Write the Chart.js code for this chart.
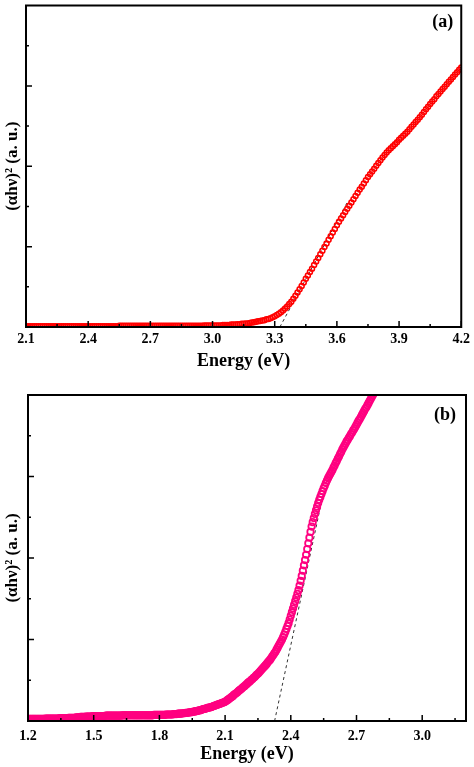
<!DOCTYPE html>
<html>
<head>
<meta charset="utf-8">
<script src="https://cdn.jsdelivr.net/npm/chart.js@4.4.0/dist/chart.umd.min.js"></script>
<style>
  html, body { margin: 0; padding: 0; background: #fff; }
  body { width: 474px; height: 767px; position: relative; overflow: hidden; }
  .panel { position: absolute; left: 0; width: 474px; }
  #panelA { top: 0; height: 372px; }
  #panelB { top: 380px; height: 387px; }
</style>
</head>
<body>
<div class="panel" id="panelA"><canvas id="chartA"></canvas></div>
<div class="panel" id="panelB"><canvas id="chartB"></canvas></div>
<script>
// ---- Panel (a): energy grid 2.10 .. 4.20 eV, 0.01 eV apart ----
const startA = 2.10;
const stepA = 0.01;
const absA = [
  0.02, 0.02, 0.02, 0.02, 0.02, 0.02, 0.02, 0.02, 0.02, 0.02, // 2.10
  0.02, 0.02, 0.02, 0.02, 0.02, 0.02, 0.02, 0.02, 0.02, 0.02, // 2.20
  0.02, 0.02, 0.02, 0.02, 0.02, 0.02, 0.02, 0.02, 0.02, 0.02, // 2.30
  0.02, 0.02, 0.02, 0.02, 0.02, 0.02, 0.02, 0.02, 0.02, 0.02, // 2.40
  0.02, 0.02, 0.02, 0.02, 0.02, 0.03, 0.03, 0.03, 0.03, 0.03, // 2.50
  0.03, 0.03, 0.03, 0.03, 0.03, 0.03, 0.03, 0.03, 0.03, 0.03, // 2.60
  0.03, 0.03, 0.03, 0.03, 0.03, 0.03, 0.03, 0.03, 0.03, 0.03, // 2.70
  0.03, 0.03, 0.03, 0.03, 0.03, 0.03, 0.03, 0.03, 0.03, 0.03, // 2.80
  0.03, 0.03, 0.03, 0.03, 0.03, 0.03, 0.04, 0.04, 0.04, 0.04, // 2.90
  0.04, 0.04, 0.04, 0.04, 0.04, 0.05, 0.05, 0.05, 0.05, 0.06, // 3.00
  0.06, 0.06, 0.07, 0.07, 0.08, 0.08, 0.09, 0.09, 0.10, 0.11, // 3.10
  0.12, 0.13, 0.14, 0.15, 0.16, 0.17, 0.19, 0.20, 0.22, 0.24, // 3.20
  0.27, 0.30, 0.33, 0.37, 0.41, 0.46, 0.51, 0.57, 0.63, 0.70, // 3.30
  0.78, 0.86, 0.94, 1.02, 1.11, 1.20, 1.28, 1.37, 1.45, 1.54, // 3.40
  1.63, 1.72, 1.81, 1.90, 1.99, 2.08, 2.17, 2.26, 2.35, 2.44, // 3.50
  2.53, 2.62, 2.70, 2.78, 2.86, 2.94, 3.02, 3.10, 3.18, 3.26, // 3.60
  3.34, 3.42, 3.49, 3.57, 3.65, 3.73, 3.80, 3.87, 3.94, 4.01, // 3.70
  4.08, 4.15, 4.22, 4.28, 4.34, 4.40, 4.45, 4.50, 4.55, 4.60, // 3.80
  4.66, 4.71, 4.76, 4.81, 4.86, 4.92, 4.98, 5.04, 5.10, 5.16, // 3.90
  5.22, 5.28, 5.35, 5.42, 5.48, 5.55, 5.61, 5.67, 5.74, 5.80, // 4.00
  5.86, 5.92, 5.98, 6.04, 6.10, 6.16, 6.22, 6.28, 6.34, 6.40, // 4.10
  6.46                                                        // 4.20
];
const xMajorA = [2.1, 2.4, 2.7, 3.0, 3.3, 3.6, 3.9, 4.2];
const xMinorA = [2.25, 2.55, 2.85, 3.15, 3.45, 3.75, 4.05];
const tangentA = [[3.325, 0], [3.65, 3.1]];

// ---- Panel (b): energy grid 1.200 .. 2.795 eV, 0.005 eV apart ----
const startB = 1.200;
const stepB = 0.005;
const absB = [
  0.05, 0.05, 0.05, 0.05, 0.05, 0.05, 0.05, 0.05, 0.05, 0.05, // 1.20
  0.05, 0.05, 0.05, 0.05, 0.05, 0.05, 0.06, 0.06, 0.06, 0.06, // 1.25
  0.06, 0.06, 0.06, 0.06, 0.06, 0.06, 0.06, 0.06, 0.06, 0.07, // 1.30
  0.07, 0.07, 0.07, 0.07, 0.07, 0.07, 0.07, 0.08, 0.08, 0.08, // 1.35
  0.08, 0.08, 0.08, 0.08, 0.09, 0.09, 0.09, 0.09, 0.10, 0.10, // 1.40
  0.10, 0.10, 0.10, 0.11, 0.11, 0.11, 0.11, 0.11, 0.11, 0.12, // 1.45
  0.12, 0.12, 0.12, 0.12, 0.12, 0.12, 0.12, 0.12, 0.12, 0.12, // 1.50
  0.12, 0.13, 0.13, 0.13, 0.13, 0.13, 0.13, 0.13, 0.13, 0.13, // 1.55
  0.13, 0.13, 0.13, 0.13, 0.13, 0.13, 0.14, 0.14, 0.14, 0.14, // 1.60
  0.14, 0.14, 0.14, 0.14, 0.14, 0.14, 0.14, 0.14, 0.14, 0.14, // 1.65
  0.14, 0.14, 0.14, 0.14, 0.14, 0.14, 0.14, 0.14, 0.14, 0.14, // 1.70
  0.14, 0.14, 0.14, 0.14, 0.14, 0.15, 0.15, 0.15, 0.15, 0.15, // 1.75
  0.15, 0.15, 0.15, 0.15, 0.15, 0.15, 0.16, 0.16, 0.16, 0.16, // 1.80
  0.16, 0.16, 0.16, 0.17, 0.17, 0.17, 0.17, 0.18, 0.18, 0.18, // 1.85
  0.18, 0.19, 0.19, 0.19, 0.20, 0.20, 0.20, 0.21, 0.21, 0.22, // 1.90
  0.22, 0.23, 0.23, 0.24, 0.24, 0.25, 0.26, 0.26, 0.27, 0.28, // 1.95
  0.29, 0.30, 0.30, 0.31, 0.32, 0.33, 0.33, 0.34, 0.35, 0.36, // 2.00
  0.37, 0.38, 0.39, 0.40, 0.41, 0.42, 0.43, 0.44, 0.45, 0.46, // 2.05
  0.47, 0.49, 0.51, 0.53, 0.55, 0.57, 0.59, 0.61, 0.64, 0.66, // 2.10
  0.68, 0.70, 0.73, 0.75, 0.77, 0.79, 0.82, 0.84, 0.86, 0.89, // 2.15
  0.91, 0.94, 0.96, 0.98, 1.01, 1.03, 1.06, 1.08, 1.11, 1.14, // 2.20
  1.16, 1.19, 1.22, 1.25, 1.28, 1.31, 1.34, 1.37, 1.40, 1.44, // 2.25
  1.47, 1.50, 1.54, 1.58, 1.62, 1.66, 1.70, 1.75, 1.80, 1.85, // 2.30
  1.90, 1.95, 2.00, 2.06, 2.12, 2.19, 2.26, 2.33, 2.40, 2.49, // 2.35
  2.58, 2.67, 2.76, 2.85, 2.94, 3.03, 3.12, 3.21, 3.32, 3.44, // 2.40
  3.56, 3.69, 3.82, 3.95, 4.08, 4.22, 4.36, 4.50, 4.64, 4.77, // 2.45
  4.88, 4.98, 5.08, 5.17, 5.26, 5.35, 5.43, 5.50, 5.57, 5.64, // 2.50
  5.71, 5.77, 5.84, 5.90, 5.96, 6.01, 6.06, 6.11, 6.16, 6.22, // 2.55
  6.27, 6.33, 6.38, 6.44, 6.49, 6.55, 6.60, 6.66, 6.71, 6.76, // 2.60
  6.81, 6.86, 6.90, 6.95, 6.99, 7.04, 7.08, 7.13, 7.17, 7.22, // 2.65
  7.27, 7.32, 7.37, 7.41, 7.46, 7.51, 7.56, 7.61, 7.66, 7.70, // 2.70
  7.75, 7.80, 7.85, 7.90, 7.95, 8.00, 8.05, 8.10, 8.15, 8.20  // 2.75
];
const xMajorB = [1.2, 1.5, 1.8, 2.1, 2.4, 2.7, 3.0];
const xMinorB = [1.35, 1.65, 1.95, 2.25, 2.55, 2.85, 3.15];
const tangentB = [[2.326, 0], [2.545, 5.5]];

// shared y ticks (no labels, arbitrary units)
const yMajor = [2, 4, 6];
const yMinor = [1, 3, 5, 7];

Chart.defaults.font.family = '"Liberation Serif", "Times New Roman", serif';
Chart.defaults.color = '#000';

// frame, inward ticks and panel letter
const frameTicks = {
  id: 'frameTicks',
  afterDraw(chart, args, opts) {
    const { ctx, chartArea: a } = chart;
    const x = chart.scales.x, y = chart.scales.y;
    ctx.save();
    ctx.strokeStyle = '#000';
    ctx.lineWidth = 1.5;
    ctx.beginPath();
    opts.xMajor.forEach(v => { const p = x.getPixelForValue(v); ctx.moveTo(p, a.bottom); ctx.lineTo(p, a.bottom - 6); });
    opts.xMinor.forEach(v => { const p = x.getPixelForValue(v); ctx.moveTo(p, a.bottom); ctx.lineTo(p, a.bottom - 3); });
    yMajor.forEach(v => { const p = y.getPixelForValue(v); ctx.moveTo(a.left, p); ctx.lineTo(a.left + 6, p); });
    yMinor.forEach(v => { const p = y.getPixelForValue(v); ctx.moveTo(a.left, p); ctx.lineTo(a.left + 3, p); });
    ctx.stroke();
    ctx.lineWidth = 2;
    ctx.strokeRect(a.left, a.top, a.right - a.left, a.bottom - a.top);
    ctx.fillStyle = '#000';
    ctx.font = 'bold 18px "Liberation Serif"';
    ctx.textAlign = 'right';
    ctx.textBaseline = 'middle';
    ctx.fillText(opts.label, a.right - opts.labelDx, a.top + opts.labelDy);
    ctx.restore();
  }
};

function buildChart(id, o) {
  const pts = o.abs.map((v, i) => ({ x: +(o.start + i * o.step).toFixed(3), y: v }));
  return new Chart(document.getElementById(id), {
    type: 'scatter',
    data: {
      datasets: [
        {
          data: pts,
          pointRadius: o.r,
          pointBorderWidth: o.bw,
          pointBorderColor: o.color,
          pointBackgroundColor: 'rgba(0,0,0,0)',
          order: 1
        },
        {
          type: 'line',
          data: o.tangent.map(p => ({ x: p[0], y: p[1] })),
          borderColor: '#333',
          borderWidth: 1,
          borderDash: [3, 3],
          pointRadius: 0,
          order: 2
        }
      ]
    },
    options: {
      responsive: true,
      maintainAspectRatio: false,
      animation: false,
      events: [],
      layout: { padding: { top: o.padTop, right: o.padRight, left: 0, bottom: 0 } },
      plugins: {
        legend: { display: false },
        tooltip: { enabled: false },
        frameTicks: { xMajor: o.xMajor, xMinor: o.xMinor, label: o.label, labelDx: o.labelDx, labelDy: o.labelDy }
      },
      scales: {
        x: {
          type: 'linear',
          min: o.xMin,
          max: o.xMax,
          grid: { display: false, drawTicks: false },
          border: { display: false },
          afterBuildTicks: s => { s.ticks = o.xMajor.map(v => ({ value: v })); },
          afterFit: s => { s.height = o.xAxisH; },
          ticks: {
            padding: o.tickPad,
            autoSkip: false,
            maxRotation: 0,
            font: { size: 14, weight: 'bold' },
            color: '#000',
            callback: v => v.toFixed(1)
          },
          title: {
            display: true,
            text: 'Energy (eV)',
            color: '#000',
            font: { size: 18, weight: 'bold' },
            padding: { top: 0, bottom: o.titlePad }
          }
        },
        y: {
          type: 'linear',
          min: 0,
          max: 8,
          grid: { display: false, drawTicks: false },
          border: { display: false },
          ticks: { display: false },
          afterFit: s => { s.width = o.yAxisW; },
          title: {
            display: true,
            text: '(\u03B1h\u03BD)\u00B2 (a. u.)',
            color: '#000',
            font: { size: 17, weight: 'bold' },
            padding: { top: 2, bottom: 0 }
          }
        }
      }
    },
    plugins: [frameTicks]
  });
}

buildChart('chartA', {
  abs: absA, start: startA, step: stepA, color: '#ff0000', r: 2.5, bw: 1.5,
  tangent: tangentA, xMin: 2.1, xMax: 4.2, xMajor: xMajorA, xMinor: xMinorA,
  padTop: 3, padRight: 11, xAxisH: 45, yAxisW: 26, tickPad: 4, titlePad: 0,
  label: '(a)', labelDx: 8, labelDy: 17
});

buildChart('chartB', {
  abs: absB, start: startB, step: stepB, color: '#ff0080', r: 3.2, bw: 1.8,
  tangent: tangentB, xMin: 1.2, xMax: 3.2, xMajor: xMajorB, xMinor: xMinorB,
  padTop: 15, padRight: 8, xAxisH: 46, yAxisW: 28, tickPad: 7, titlePad: 2,
  label: '(b)', labelDx: 10, labelDy: 20
});
</script>
</body>
</html>
